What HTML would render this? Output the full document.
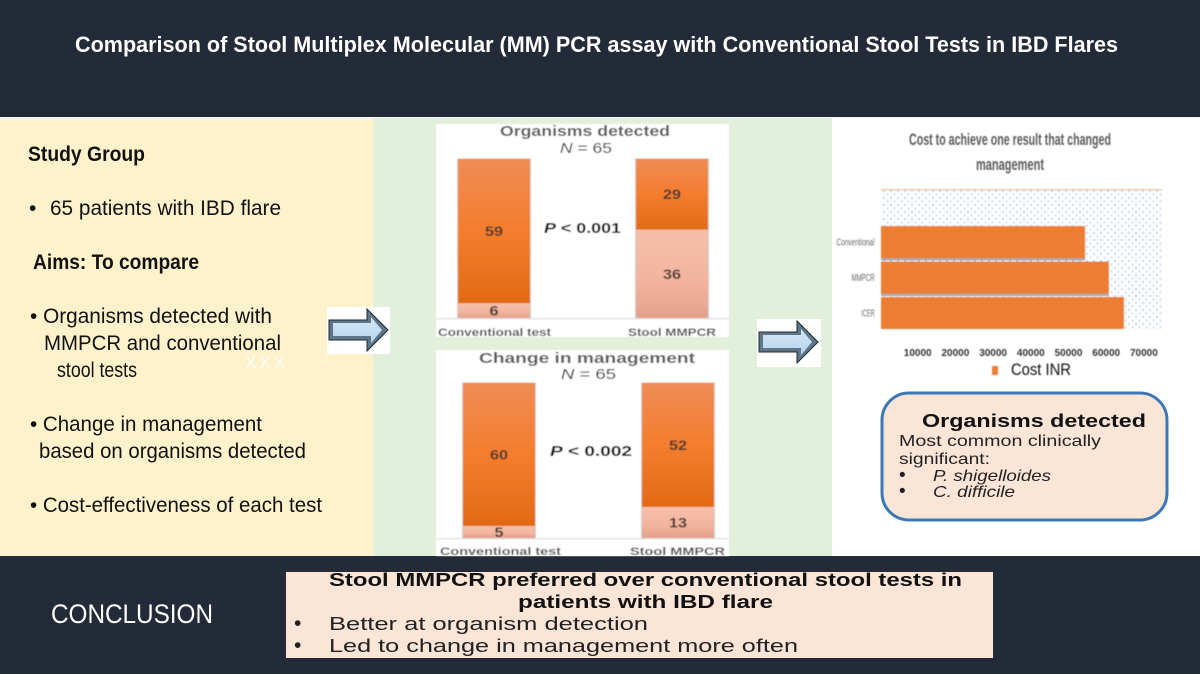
<!DOCTYPE html>
<html lang="en">
<head>
<meta charset="utf-8">
<title>Comparison of Stool Multiplex Molecular PCR assay with Conventional Stool Tests in IBD Flares</title>
<style>
html,body{margin:0;padding:0;width:1200px;height:674px;overflow:hidden;background:#232b38}
svg{display:block}
text{font-family:"Liberation Sans",sans-serif}
</style>
</head>
<body>
<svg id="slide" xmlns="http://www.w3.org/2000/svg" width="1200" height="674" viewBox="0 0 1200 674">
<defs>
<linearGradient id="darkBar" x1="0" y1="0" x2="0" y2="1">
<stop offset="0" stop-color="#ef8c55"/><stop offset="0.5" stop-color="#f47d2e"/><stop offset="1" stop-color="#e16a15"/>
</linearGradient>
<linearGradient id="lightBar" x1="0" y1="0" x2="0" y2="1">
<stop offset="0" stop-color="#f6bfab"/><stop offset="0.6" stop-color="#f2b49e"/><stop offset="1" stop-color="#e1a08a"/>
</linearGradient>
<linearGradient id="arrowFill" x1="0" y1="0" x2="0" y2="1">
<stop offset="0" stop-color="#d6e8f7"/><stop offset="1" stop-color="#b5d3ee"/>
</linearGradient>
<pattern id="dots" width="7" height="7" patternUnits="userSpaceOnUse">
<rect width="7" height="7" fill="#fbfcfe"/>
<circle cx="2" cy="2" r="0.7" fill="#7f9cc8"/>
<circle cx="5.5" cy="5.5" r="0.7" fill="#9db4d8"/>
</pattern>
<clipPath id="plotClip"><rect x="881" y="189" width="281" height="140"/></clipPath>
<filter id="soft" x="-5%" y="-5%" width="110%" height="110%"><feGaussianBlur stdDeviation="0.45"/></filter>
</defs>

<rect x="0" y="0" width="1200" height="117" fill="#232b38"/>
<text x="75" y="52" font-size="22" font-weight="700" fill="#ffffff" textLength="1043" lengthAdjust="spacingAndGlyphs">Comparison of Stool Multiplex Molecular (MM) PCR assay with Conventional Stool Tests in IBD Flares</text>

<rect x="0" y="117" width="1200" height="3" fill="#f4f6f4"/>
<rect x="0" y="120" width="373" height="436" fill="#fef2cc"/>
<rect x="373" y="118" width="459" height="438" fill="#e2efda"/>
<rect x="832" y="118" width="368" height="438" fill="#ffffff"/>
<rect x="0" y="556" width="1200" height="118" fill="#232b38"/>

<g font-size="21" fill="#111111">
<text x="28" y="161" font-weight="700" textLength="117" lengthAdjust="spacingAndGlyphs">Study Group</text>
<text x="29" y="215">•</text>
<text x="50" y="215" textLength="231" lengthAdjust="spacingAndGlyphs">65 patients with IBD flare</text>
<text x="33" y="269" font-weight="700" textLength="166" lengthAdjust="spacingAndGlyphs">Aims: To compare</text>
<text x="30" y="323" textLength="242" lengthAdjust="spacingAndGlyphs">• Organisms detected with</text>
<text x="44" y="350" textLength="237" lengthAdjust="spacingAndGlyphs">MMPCR and conventional</text>
<text x="57" y="377" textLength="80" lengthAdjust="spacingAndGlyphs">stool tests</text>
<text x="30" y="431" textLength="232" lengthAdjust="spacingAndGlyphs">• Change in management</text>
<text x="39" y="458" textLength="267" lengthAdjust="spacingAndGlyphs">based on organisms detected</text>
<text x="30" y="512" textLength="292" lengthAdjust="spacingAndGlyphs">• Cost-effectiveness of each test</text>
</g>
<text x="245" y="368" font-size="17" fill="#ffffff" textLength="40" opacity="0.85">XXX</text>

<g transform="translate(327,307)">
<rect width="63" height="47" fill="#ffffff"/>
<polygon points="2,13 40,13 40,2 61,23 40,44 40,33 2,33" fill="#5f7688" stroke="#1e2a33" stroke-width="1"/>
<polygon points="6,16 44,16 44,10 55,23 44,36 44,29 6,29" fill="url(#arrowFill)"/>
</g>
<g transform="translate(757,319)">
<rect width="64" height="48" fill="#ffffff"/>
<polygon points="2,13 40,13 40,2 61,23 40,44 40,33 2,33" fill="#5f7688" stroke="#1e2a33" stroke-width="1"/>
<polygon points="6,16 44,16 44,10 55,23 44,36 44,29 6,29" fill="url(#arrowFill)"/>
</g>

<g id="organismsChart" filter="url(#soft)">
<rect x="436" y="124" width="293" height="213" fill="#ffffff"/>
<text x="500" y="136" font-size="14.5" font-weight="700" fill="#5b5b5b" textLength="170" lengthAdjust="spacingAndGlyphs">Organisms detected</text>
<text x="560" y="153" font-size="14.5" fill="#333333" textLength="52" lengthAdjust="spacingAndGlyphs"><tspan font-style="italic">N</tspan> = 65</text>
<text x="544" y="233" font-size="14.5" font-weight="700" fill="#111111" textLength="77" lengthAdjust="spacingAndGlyphs"><tspan font-style="italic">P</tspan> &lt; 0.001</text>
</g>

<g id="managementChart" filter="url(#soft)">
<rect x="436" y="350" width="293" height="206" fill="#ffffff"/>
<text x="479" y="363" font-size="14.5" font-weight="700" fill="#5b5b5b" textLength="216" lengthAdjust="spacingAndGlyphs">Change in management</text>
<text x="561" y="379" font-size="14.5" fill="#333333" textLength="55" lengthAdjust="spacingAndGlyphs"><tspan font-style="italic">N</tspan> = 65</text>
<text x="550" y="456" font-size="14.5" font-weight="700" fill="#111111" textLength="82" lengthAdjust="spacingAndGlyphs"><tspan font-style="italic">P</tspan> &lt; 0.002</text>
</g>

<g id="costChart" filter="url(#soft)">
<text x="909" y="145" font-size="17" font-weight="700" fill="#5a5a5a" textLength="202" lengthAdjust="spacingAndGlyphs">Cost to achieve one result that changed</text>
<text x="976" y="170" font-size="17" font-weight="700" fill="#5a5a5a" textLength="68" lengthAdjust="spacingAndGlyphs">management</text>
<rect x="881" y="189" width="281" height="140" fill="url(#dots)"/>
<rect x="881" y="189" width="281" height="1.2" fill="#e8c4a6"/>
<rect x="992" y="366" width="6" height="9" fill="#ed7d31"/>
<text x="1011" y="375" font-size="17" fill="#111111" textLength="60" lengthAdjust="spacingAndGlyphs">Cost INR</text>
</g>

<g>
<rect x="882" y="393" width="285" height="127" rx="27" ry="27" fill="#fbe5d6" stroke="#3b78b4" stroke-width="3"/>
<text x="922" y="427" font-size="18.5" font-weight="700" fill="#111111" textLength="224" lengthAdjust="spacingAndGlyphs">Organisms detected</text>
<text x="899" y="446" font-size="16" fill="#222222" textLength="202" lengthAdjust="spacingAndGlyphs">Most common clinically</text>
<text x="899" y="464" font-size="16" fill="#222222" textLength="91" lengthAdjust="spacingAndGlyphs">significant:</text>
<text x="899" y="481" font-size="19" fill="#222222">•</text>
<text x="933" y="481" font-size="16" font-style="italic" fill="#222222" textLength="118" lengthAdjust="spacingAndGlyphs">P. shigelloides</text>
<text x="899" y="497" font-size="19" fill="#222222">•</text>
<text x="933" y="497" font-size="16" font-style="italic" fill="#222222" textLength="82" lengthAdjust="spacingAndGlyphs">C. difficile</text>
</g>

<text x="51" y="623" font-size="27" fill="#ffffff" textLength="162" lengthAdjust="spacingAndGlyphs">CONCLUSION</text>
<g>
<rect x="286" y="572" width="707" height="86" fill="#fbe5d6"/>
<text x="329" y="586" font-size="18.5" font-weight="700" fill="#111111" textLength="633" lengthAdjust="spacingAndGlyphs">Stool MMPCR preferred over conventional stool tests in</text>
<text x="518" y="608" font-size="18.5" font-weight="700" fill="#111111" textLength="255" lengthAdjust="spacingAndGlyphs">patients with IBD flare</text>
<text x="294" y="630" font-size="21" fill="#222222">•</text>
<text x="329" y="630" font-size="18.5" fill="#222222" textLength="319" lengthAdjust="spacingAndGlyphs">Better at organism detection</text>
<text x="294" y="652" font-size="21" fill="#222222">•</text>
<text x="329" y="652" font-size="18.5" fill="#222222" textLength="469" lengthAdjust="spacingAndGlyphs">Led to change in management more often</text>
</g>
</svg>

<script>
var testCategories = ["Conventional test", "Stool MMPCR"];
var organismsDark = [59, 29];
var organismsLight = [6, 36];
var managementDark = [60, 52];
var managementLight = [5, 13];
var costCategories = ["Conventional", "MMPCR", "ICER"];
var costValues = [54400, 60700, 64700];
var costTicks = [10000, 20000, 30000, 40000, 50000, 60000, 70000];

var NS = "http://www.w3.org/2000/svg";

function mk(parent, tag, attrs, txt) {
  var el = document.createElementNS(NS, tag);
  for (var k in attrs) { el.setAttribute(k, attrs[k]); }
  if (txt !== undefined) { el.textContent = txt; }
  parent.appendChild(el);
  return el;
}

function drawStacked(groupId, dark, light, barLefts, baseY, pxPerUnit, axisLeft, axisRight, labelY, labelLefts, labelWidths) {
  var g = document.getElementById(groupId);
  function yScale(v) { return baseY - v * pxPerUnit; }
  var axis = mk(g, "rect", {x: axisLeft, y: baseY, width: axisRight - axisLeft, height: 1.5, fill: "#e3e3e3"});
  
  
  testCategories.forEach(function (cat, i) {
    var x = barLefts[i], w = 72;
    var yMid = yScale(light[i]);
    var yTop = yScale(light[i] + dark[i]);
    var shadow = mk(g, "rect", {x: x - 1, y: yTop, width: w + 2, height: baseY - yTop, fill: "#cfcfcf"});
    
    
    var top = mk(g, "rect", {x: x, y: yTop, width: w, height: yMid - yTop, fill: "url(#darkBar)"});
    
    
    var low = mk(g, "rect", {x: x, y: yMid, width: w, height: baseY - yMid, fill: "url(#lightBar)"});
    
    
    var darkLabel = mk(g, "text", {x: x + w / 2, y: (yTop + yMid) / 2 + 5, "font-size": 13.5, "font-weight": 700, "text-anchor": "middle", fill: "#4a3a30", textLength: String(dark[i]).length * 9, lengthAdjust: "spacingAndGlyphs"}, dark[i]);
    
    
    var lightLabel = mk(g, "text", {x: x + w / 2, y: (yMid + baseY) / 2 + 5, "font-size": 13.5, "font-weight": 700, "text-anchor": "middle", fill: "#4a3a30", textLength: String(light[i]).length * 9, lengthAdjust: "spacingAndGlyphs"}, light[i]);
    
    
    var catLabel = mk(g, "text", {x: labelLefts[i], y: labelY, "font-size": 11, "font-weight": 700, fill: "#555555", textLength: labelWidths[i], lengthAdjust: "spacingAndGlyphs"}, cat);
    
    
  });
}

drawStacked("organismsChart", organismsDark, organismsLight, [458, 636], 318, 159.3 / 65, 436, 729, 336, [438, 628], [113, 88]);
drawStacked("managementChart", managementDark, managementLight, [463, 642], 538, 155.3 / 65, 436, 729, 555, [440, 630], [121, 95]);

(function () {
  var g = document.getElementById("costChart");
  var x0 = 880, pxPerValue = 0.00377;
  function xScale(v) { return x0 + v * pxPerValue; }
  var bandTop = 226, bandStep = 35.5, barH = 32;
  costCategories.forEach(function (cat, i) {
    var y = bandTop + i * bandStep;
    var shadow = mk(g, "rect", {x: x0 + 1, y: y + 1.5, width: xScale(costValues[i]) - x0 - 1, height: barH + 1, fill: "#a8a8a8", "clip-path": "url(#plotClip)"});
    
    
    var bar = mk(g, "rect", {x: x0 + 1, y: y, width: xScale(costValues[i]) - x0 - 1, height: barH, fill: "#ed7d31"});
    
    
    var label = mk(g, "text", {x: 874.5, y: y + barH / 2 + 3.5, "font-size": 10.5, "text-anchor": "end", fill: "#666666"}, cat);
    
    
    label.setAttribute('textLength', cat.length > 6 ? 38 : (cat.length > 4 ? 23 : 13));
    label.setAttribute('lengthAdjust', 'spacingAndGlyphs');
  });
  costTicks.forEach(function (t) {
    var tick = mk(g, "text", {x: xScale(t), y: 356, "font-size": 10, "font-weight": 700, "text-anchor": "middle", fill: "#333333"}, t);
    
    
  });
})();
</script>
</body>
</html>
